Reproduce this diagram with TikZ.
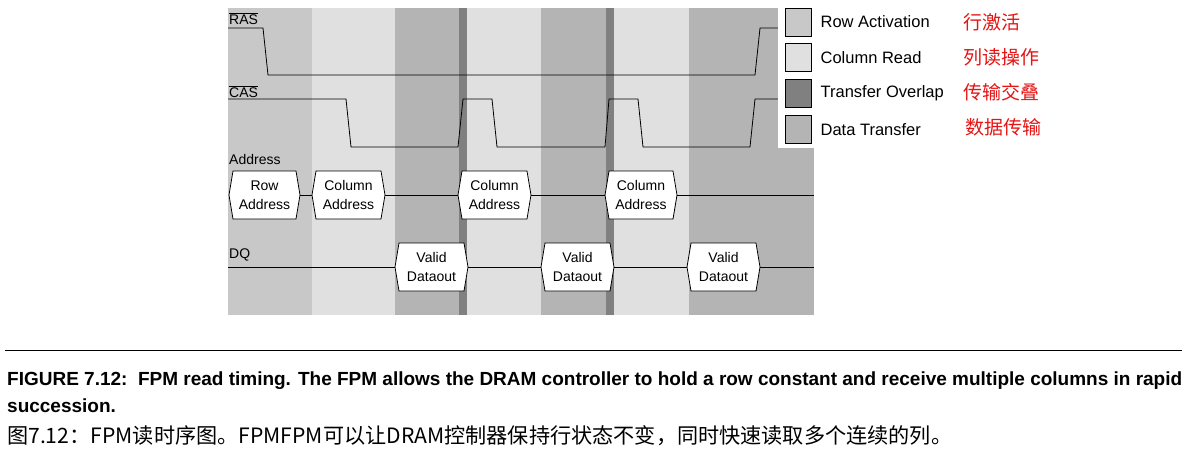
\documentclass[tikz,border=0pt]{standalone}
\usepackage{fontspec}
\setmainfont{Liberation Sans}
\newfontfamily\cjk{Noto Sans CJK SC}
\usetikzlibrary{positioning}
\usepackage{calc}
\definecolor{rowgray}{RGB}{200,200,200}
\definecolor{colgray}{RGB}{224,224,224}
\definecolor{ovlgray}{RGB}{128,128,128}
\definecolor{datgray}{RGB}{180,180,180}
\definecolor{cnred}{RGB}{230,20,20}
\newcommand{\hexbox}[4]{% name, x-left, x-right, y-center
  \draw[sig,fill=white] (#2,#4) -- (#2+4,#4-24) -- (#3-4,#4-24) -- (#3,#4)
    -- (#3-4,#4+24) -- (#2+4,#4+24) -- cycle;
  \coordinate (#1) at ({(#2+#3)/2},#4);}
\newcommand{\barsig}[1]{\rlap{\rule[11pt]{\widthof{#1}}{0.7pt}}#1}
\newsavebox{\capbox}
\begin{document}
\sbox{\capbox}{\fontsize{19}{21}\selectfont\bfseries FIGURE 7.12:\ \ FPM read timing. The FPM allows the DRAM controller to hold a row constant and receive multiple columns in rapid}%
\pgfmathsetmacro{\capscale}{1175/(\wd\capbox)}%
\begin{tikzpicture}[x=1pt,y=-1pt,
    sig/.style={draw=black,line width=0.8pt},
    lbl/.style={font=\fontsize{14}{16}\selectfont,inner sep=0pt},
    hexlbl/.style={lbl,align=center,text width=70pt},
    legtxt/.style={font=\fontsize{16.5}{18}\selectfont,anchor=west,inner sep=0pt},
    legbox/.style={draw=black,line width=0.8pt,minimum width=26pt,minimum height=28pt,inner sep=0pt},
    cntxt/.style={font=\cjk\fontsize{19}{21}\selectfont,text=cnred,anchor=west,inner sep=0pt}]
\useasboundingbox (0,0) rectangle (1190,451);
% bands
\fill[rowgray] (228,8) rectangle (312,315);
\fill[colgray] (312,8) rectangle (395,315);
\fill[datgray] (395,8) rectangle (459,315);
\fill[ovlgray] (459,8) rectangle (467,315);
\fill[colgray] (467,8) rectangle (541,315);
\fill[datgray] (541,8) rectangle (606,315);
\fill[ovlgray] (606,8) rectangle (614,315);
\fill[colgray] (614,8) rectangle (689,315);
\fill[datgray] (689,8) rectangle (814,315);
% signal names
\node[lbl,anchor=west] (ras) at (229,19) {\barsig{RAS}};
\node[lbl,anchor=west] (cas) at (229,92) {\barsig{CAS}};
\node[lbl,anchor=west] (addr) at (229,159) {Address};
\node[lbl,anchor=west] (dq) at (229,255) {DQ};
% RAS and CAS
\draw[sig] (228,28) -- (263,28) -- (268,75) -- (755,75) -- (760,28) -- (778,28);
\draw[sig] (228,99) -- (346,99) -- (351,147) -- (458,147) -- (463,99) -- (492,99)
  -- (497,147) -- (605,147) -- (609,99) -- (638,99) -- (643,147) -- (750,147)
  -- (755,99) -- (778,99);
% address bus
\draw[sig] (300,195) -- (312,195) (385,195) -- (458,195) (531,195) -- (605,195)
  (677,195) -- (814,195);
\hexbox{ra}{229}{300}{195}
\hexbox{ca1}{312}{385}{195}
\hexbox{ca2}{458}{531}{195}
\hexbox{ca3}{605}{677}{195}
\node[hexlbl] at (ra) {Row\\[3pt]Address};
\foreach \n in {ca1,ca2,ca3}
  \node[hexlbl] at (\n) {Column\\[3pt]Address};
% data bus
\draw[sig] (228,267) -- (395,267) (468,267) -- (541,267) (614,267) -- (687,267)
  (760,267) -- (814,267);
\hexbox{vd1}{395}{468}{267}
\hexbox{vd2}{541}{614}{267}
\hexbox{vd3}{687}{760}{267}
\foreach \n in {vd1,vd2,vd3}
  \node[hexlbl] at (\n) {Valid\\[3pt]Dataout};
% legend
\fill[white] (778,0) rectangle (1060,148);
\node[legbox,fill=rowgray] (lrow) at (798,22) {};
\node[legbox,fill=colgray,below=7pt of lrow] (lcol) {};
\node[legbox,fill=ovlgray,below=7pt of lcol] (lovl) {};
\node[legbox,fill=datgray,below=7pt of lovl] (ldat) {};
\node[legtxt,right=9pt of lrow] {Row Activation};
\node[legtxt,right=9pt of lcol] {Column Read};
\node[legtxt,right=9pt of lovl] {Transfer Overlap};
\node[legtxt,right=9pt of ldat] {Data Transfer};
\node[cntxt] at (963,22) {行激活};
\node[cntxt] at (963,57) {列读操作};
\node[cntxt] at (963,92) {传输交叠};
\node[cntxt] at (965,127) {数据传输};
% caption
\draw[line width=0.8pt] (5,350) -- (1182,350);
\node[anchor=base west,inner sep=0pt] (cap1) at (7,385)
  {\scalebox{\capscale}[1]{\usebox{\capbox}}};
\node[anchor=base west,inner sep=0pt] (cap2) at (7,412)
  {\scalebox{\capscale}[1]{\fontsize{19}{21}\selectfont\bfseries succession.}};
\node[anchor=base west,inner sep=0pt] (cap3) at (7,443)
  {\resizebox{945pt}{!}{\cjk\fontsize{17}{19}\selectfont 图7.12：FPM读时序图。FPMFPM可以让DRAM控制器保持行状态不变，同时快速读取多个连续的列。}};
\end{tikzpicture}
\end{document}
